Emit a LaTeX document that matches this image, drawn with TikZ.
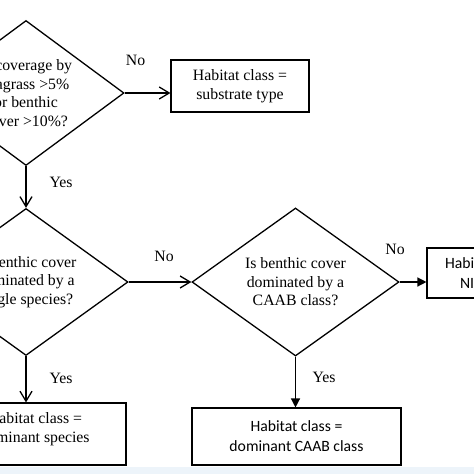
\documentclass[tikz,border=0pt]{standalone}
\usepackage{fontspec}
\setmainfont{Liberation Serif}
\newfontfamily\carlitofont{Carlito}
\usetikzlibrary{shapes.geometric,arrows.meta}
\definecolor{bandblue}{HTML}{EDF4FA}
\begin{document}
\begin{tikzpicture}[x=1pt,y=-1pt, line width=1.3pt,
  serif/.style={font=\fontsize{15.8}{18.5}\selectfont, align=center},
  sans/.style={font=\carlitofont\fontsize{15.7}{20}\selectfont, align=center},
  decision/.style={diamond, draw, inner sep=0pt, shape aspect=1.35, serif},
  box/.style={rectangle, draw, line width=1.1pt, inner sep=0pt},
  oarrow/.style={-{Straight Barb[length=10pt,width=12pt]}},
  farrow/.style={-{Triangle[length=9pt,width=9pt]}}]
\useasboundingbox (0,0) rectangle (474,474);
\clip (0,0) rectangle (474,474);
\fill[bandblue] (0,467) rectangle (474,474);

\node[decision, minimum width=196pt, minimum height=145pt] (d1) at (26,93)
  {Is coverage by\\seagrass >5\%\\or benthic\\cover >10\%?};
\node[decision, minimum width=204pt, minimum height=147pt] (d2) at (26,282)
  {Is benthic cover\\dominated by a\\single species?};
\node[decision, minimum width=207pt, minimum height=148pt] (d3) at (295.5,282)
  {Is benthic cover\\dominated by a\\CAAB class?};

\node[box, serif, minimum width=138pt, minimum height=52pt] (b1) at (240,86)
  {Habitat class =\\substrate type};
\node[box, minimum width=182pt, minimum height=62pt] (b2) at (35,434) {};
\node[serif] (b2t) at (35,429) {Habitat class =\\dominant species};
\node[box, sans, minimum width=209pt, minimum height=57pt] (b3) at (296.5,436.5)
  {Habitat class =\\dominant CAAB class};
\node[box, sans, align=left, minimum width=128pt, minimum height=50pt] (b4) at (491,273)
  {Habitat class =\\\hspace*{15pt}NI};

\draw[oarrow] (d1.south) -- (d2.north);
\draw[oarrow] (d1.east) -- (d1.east -| b1.west);
\draw[oarrow] (d2.east) -- (d3.west);
\draw[oarrow] (d2.south) -- (d2.south |- b2.north);
\draw[farrow] (d3.east) -- (d3.east -| b4.west);
\draw[farrow] (d3.south) -- (d3.south |- b3.north);

\node[serif] (l1) at (135.5,60) {No};
\node[serif] (l2) at (61,182) {Yes};
\node[serif] (l3) at (164,256) {No};
\node[serif] (l4) at (61,378) {Yes};
\node[serif] (l5) at (395,249) {No};
\node[serif] (l6) at (324,377) {Yes};
\end{tikzpicture}
\end{document}
